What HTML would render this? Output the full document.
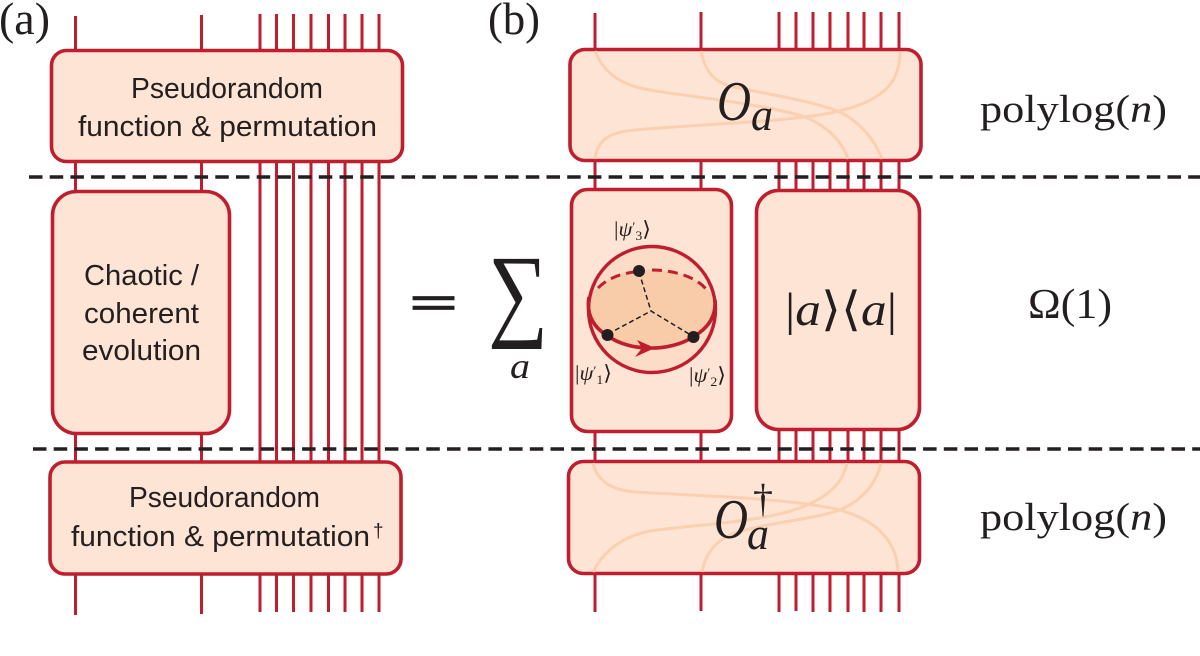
<!DOCTYPE html>
<html><head><meta charset="utf-8"><style>
html,body{margin:0;padding:0;background:#fff;width:1200px;height:656px;overflow:hidden}
svg{display:block}
.s{font-family:"Liberation Sans",sans-serif;fill:#231f20;font-size:29px}
.m{font-family:"Liberation Serif",serif;fill:#231f20}
.i{font-style:italic}
.w{stroke:#be1e2d;stroke-width:3;fill:none}
.b{fill:#fde4d4;stroke:#be1e2d;stroke-width:3.6}
.c{fill:none;stroke:#fad0b0;stroke-width:3}
</style></head><body>
<svg width="1200" height="656" viewBox="0 0 1200 656" xmlns="http://www.w3.org/2000/svg">
<path class="w" d="M75.5 16V196M201.5 15V196M75.5 430V470M201.5 430V470M75.5 570V615M201.5 570V614
M260 14V612M276.5 14V612M293.5 14V612M311 14V612M328.5 14V612M345 14V612M362 14V612M379 14V612"/>
<path class="w" d="M595 13V196M701 12V196M595 428V470M701 428V470M595 570V612M701 570V611
M779 12V194M796 12V194M813 12V194M830 12V194M848 12V194M864 12V194M881 12V194M899 12V194
M779 425V612M796 425V611M813 425V612M830 425V612M848 425V612M864 425V612M881 425V612M899 425V612"/>
<rect class="b" x="51.5" y="50.5" width="351" height="111" rx="15"/>
<rect class="b" x="52.5" y="191.5" width="177" height="242" rx="24"/>
<rect class="b" x="50" y="462" width="351" height="112" rx="15"/>
<rect class="b" x="570" y="49.5" width="351" height="111" rx="15"/>
<rect class="b" x="571.5" y="189.5" width="160" height="242" rx="16"/>
<rect class="b" x="756.5" y="190.5" width="163" height="239" rx="22"/>
<rect class="b" x="568.5" y="461.5" width="351" height="112" rx="15"/>
<path class="c" d="M595 51C605 76 625 86 650 90C690 97 760 103 805 117C825 125 842 140 848 159"/>
<path class="c" d="M701 51C705 72 715 82 730 86C760 93 810 100 840 112C860 122 875 140 882 159"/>
<path class="c" d="M595 159C597 140 610 132 635 130C700 124 790 122 835 112C880 102 900 85 900 52"/>
<path class="c" d="M593 463C597 480 610 490 635 492C700 496 790 498 840 510C875 520 897 540 898 572"/>
<path class="c" d="M593 572C605 548 625 536 650 531C700 524 770 522 807 505C830 495 843 482 847 463"/>
<path class="c" d="M702 572C705 555 715 540 735 533C770 522 810 520 840 510C862 500 876 485 881 463"/>
<g stroke="#231f20" stroke-width="3.4" fill="none" stroke-dasharray="13.5 7.2">
<path d="M29 177H1200"/><path d="M33 449H1200"/>
</g>
<text class="m" x="-1" y="34" font-size="46" textLength="51" lengthAdjust="spacingAndGlyphs">(a)</text>
<text class="m" x="488" y="34" font-size="46" textLength="52" lengthAdjust="spacingAndGlyphs">(b)</text>
<text class="s" x="131" y="98" textLength="192" lengthAdjust="spacingAndGlyphs">Pseudorandom</text>
<text class="s" x="78" y="136" textLength="299" lengthAdjust="spacingAndGlyphs">function &amp; permutation</text>
<text class="s" x="84" y="285" textLength="115" lengthAdjust="spacingAndGlyphs">Chaotic /</text>
<text class="s" x="84" y="323" textLength="115" lengthAdjust="spacingAndGlyphs">coherent</text>
<text class="s" x="82" y="360" textLength="119" lengthAdjust="spacingAndGlyphs">evolution</text>
<text class="s" x="129" y="507" textLength="191" lengthAdjust="spacingAndGlyphs">Pseudorandom</text>
<text class="s" x="71" y="546" textLength="299" lengthAdjust="spacingAndGlyphs">function &amp; permutation</text>
<text class="s" x="373" y="537" style="font-size:19px">†</text>
<text class="m" x="410" y="319" font-size="48" textLength="47" lengthAdjust="spacingAndGlyphs" stroke="#231f20" stroke-width="1.8">=</text>
<text class="m" x="488" y="327" font-size="104" textLength="60" lengthAdjust="spacingAndGlyphs">∑</text>
<text class="m i" x="510" y="378" font-size="36" textLength="20" lengthAdjust="spacingAndGlyphs">a</text>
<text class="m i" x="717" y="120" font-size="56" textLength="34" lengthAdjust="spacingAndGlyphs">O</text>
<text class="m i" x="751" y="130" font-size="46" textLength="22" lengthAdjust="spacingAndGlyphs">a</text>
<text class="m i" x="714" y="538" font-size="56" textLength="34" lengthAdjust="spacingAndGlyphs">O</text>
<text class="m i" x="747" y="549" font-size="46" textLength="22" lengthAdjust="spacingAndGlyphs">a</text>
<text class="m" x="753" y="512" font-size="40">†</text>
<text class="m" x="785" y="325" font-size="47" textLength="112" lengthAdjust="spacingAndGlyphs">|<tspan class="i">a</tspan>⟩⟨<tspan class="i">a</tspan>|</text>
<text class="m" x="980" y="122" font-size="39" textLength="187" lengthAdjust="spacingAndGlyphs">polylog(<tspan class="i">n</tspan>)</text>
<text class="m" x="980" y="530" font-size="39" textLength="187" lengthAdjust="spacingAndGlyphs">polylog(<tspan class="i">n</tspan>)</text>
<text class="m" x="1028" y="318" font-size="42" textLength="84" lengthAdjust="spacingAndGlyphs">Ω(1)</text>
<ellipse cx="652" cy="309" rx="64" ry="63" fill="#fcdcc6"/>
<path d="M589 297C610 272 630 270 652 270C680 270 705 280 715 300C716 315 710 327 693 337C670 352 630 352 608 336C594 328 586 315 589 297Z" fill="#f8cba9"/>
<path d="M598 288C610 276 625 273 640 271M652 270C675 270 700 278 708 292" fill="none" stroke="#be1e2d" stroke-width="3" stroke-dasharray="10 6"/>
<path d="M589 297C586 315 594 328 608 336C630 352 670 352 693 337C710 327 716 315 715 300" fill="none" stroke="#be1e2d" stroke-width="3.6"/>
<ellipse cx="652" cy="309.500" rx="63.500" ry="63" fill="none" stroke="#be1e2d" stroke-width="3.400"/>
<path d="M637 340L655 348L635 357L642 348Z" fill="#be1e2d"/>
<path d="M639 272L651 311M608 334L651 311L694 337" fill="none" stroke="#231f20" stroke-width="1.500" stroke-dasharray="5 3"/>
<circle cx="639" cy="271" r="6" fill="#231f20"/>
<circle cx="607.500" cy="335" r="6" fill="#231f20"/>
<circle cx="693.500" cy="337" r="6" fill="#231f20"/>
<text class="m" x="614" y="236" font-size="21" textLength="37" lengthAdjust="spacingAndGlyphs">|<tspan class="i">ψ</tspan><tspan dy="-5" font-size="13">′</tspan><tspan dy="9" font-size="13">3</tspan><tspan dy="-4">⟩</tspan></text>
<text class="m" x="575" y="380" font-size="21" textLength="37" lengthAdjust="spacingAndGlyphs">|<tspan class="i">ψ</tspan><tspan dy="-5" font-size="13">′</tspan><tspan dy="9" font-size="13">1</tspan><tspan dy="-4">⟩</tspan></text>
<text class="m" x="689" y="382" font-size="21" textLength="37" lengthAdjust="spacingAndGlyphs">|<tspan class="i">ψ</tspan><tspan dy="-5" font-size="13">′</tspan><tspan dy="9" font-size="13">2</tspan><tspan dy="-4">⟩</tspan></text>
</svg>
</body></html>
